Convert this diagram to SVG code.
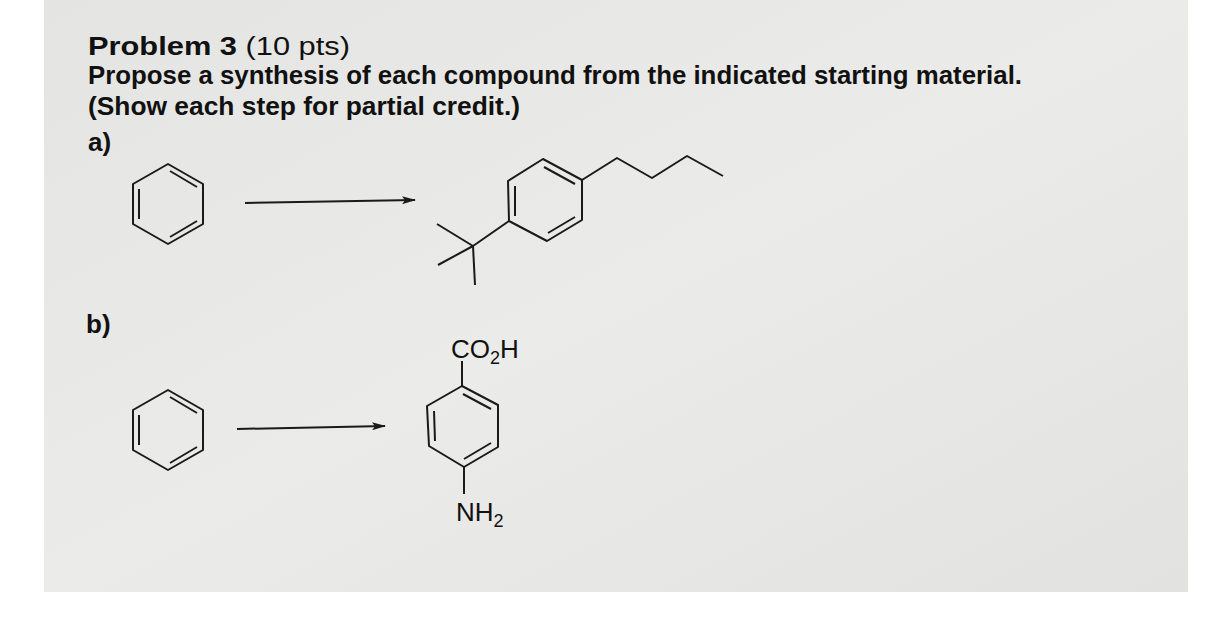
<svg xmlns="http://www.w3.org/2000/svg" width="1212" height="624" viewBox="0 0 1212 624">
<defs>
<linearGradient id="paper" x1="0" y1="0" x2="1" y2="1"><stop offset="0" stop-color="#e4e4e2"/><stop offset="0.5" stop-color="#ebebe9"/><stop offset="1" stop-color="#e2e2e0"/></linearGradient>
<marker id="ah" markerWidth="14" markerHeight="8" refX="13" refY="4" orient="auto" markerUnits="userSpaceOnUse"><path d="M0,0 L14,4 L0,8 L3,4 Z" fill="#1a1a1a"/></marker>
</defs>
<style>
.b{stroke:#1a1a1a;stroke-width:2;fill:none;stroke-linejoin:round}
.t{font-family:"Liberation Sans",Arial,sans-serif;fill:#111}
.h{font-weight:bold;font-size:25px}
.l{font-size:26px}
</style>
<rect width="1212" height="624" fill="#fff"/>
<rect x="44" y="0" width="1144" height="592" fill="url(#paper)"/>
<text class="t h" x="88" y="55" style="font-size:26px" textLength="262" lengthAdjust="spacingAndGlyphs">Problem 3 <tspan font-weight="normal">(10 pts)</tspan></text>
<text class="t h" x="88" y="84" textLength="934" lengthAdjust="spacingAndGlyphs">Propose a synthesis of each compound from the indicated starting material.</text>
<text class="t h" x="88" y="115" textLength="432" lengthAdjust="spacingAndGlyphs">(Show each step for partial credit.)</text>
<text class="t h" x="88" y="151" style="font-size:26px">a)</text>
<text class="t h" x="86" y="333" style="font-size:26px">b)</text>
<g id="benzeneA">
<polygon class="b" points="168,164 203,184 203,224 168,244 133,224 133,184"/>
<line class="b" x1="139" y1="189" x2="139" y2="219"/><line class="b" x1="170" y1="171" x2="197" y2="187"/><line class="b" x1="170" y1="237" x2="197" y2="221"/>
</g>
<g id="productA">
<polygon class="b" points="543,159 582,180 582,220 547,241 509,221 508,181"/>
<line class="b" x1="515" y1="186" x2="515" y2="216"/><line class="b" x1="544" y1="167" x2="575" y2="184"/><line class="b" x1="548" y1="233" x2="575" y2="217"/>
<polyline class="b" points="582,180 617,158 652,178 687,156 723,176"/>
<line class="b" x1="509" y1="221" x2="473" y2="246"/><line class="b" x1="473" y1="246" x2="437" y2="224"/><line class="b" x1="473" y1="246" x2="438" y2="265"/><line class="b" x1="473" y1="246" x2="475" y2="285"/>
</g>
<g id="benzeneB">
<polygon class="b" points="168,390 203,410 203,450 168,470 133,450 133,410"/>
<line class="b" x1="139" y1="415" x2="139" y2="445"/><line class="b" x1="170" y1="397" x2="197" y2="413"/><line class="b" x1="170" y1="463" x2="197" y2="447"/>
</g>
<g id="productB">
<polygon class="b" points="462,386 498,405 498,447 464,467 429,446 427,406"/>
<line class="b" x1="434" y1="411" x2="435" y2="441"/><line class="b" x1="463" y1="394" x2="491" y2="409"/><line class="b" x1="464" y1="459" x2="491" y2="443"/>
<line class="b" x1="462" y1="386" x2="462" y2="361"/><line class="b" x1="464" y1="467" x2="464" y2="494"/>
<text class="t l" x="451" y="358">CO<tspan font-size="18" dy="6">2</tspan><tspan dy="-6">H</tspan></text>
<text class="t l" x="456" y="521">NH<tspan font-size="18" dy="6">2</tspan></text>
</g>
<g id="connectors">
<line class="b" x1="245" y1="203" x2="415" y2="200" marker-end="url(#ah)"/>
<line class="b" x1="237" y1="429" x2="385" y2="426" marker-end="url(#ah)"/>
</g>
</svg>
